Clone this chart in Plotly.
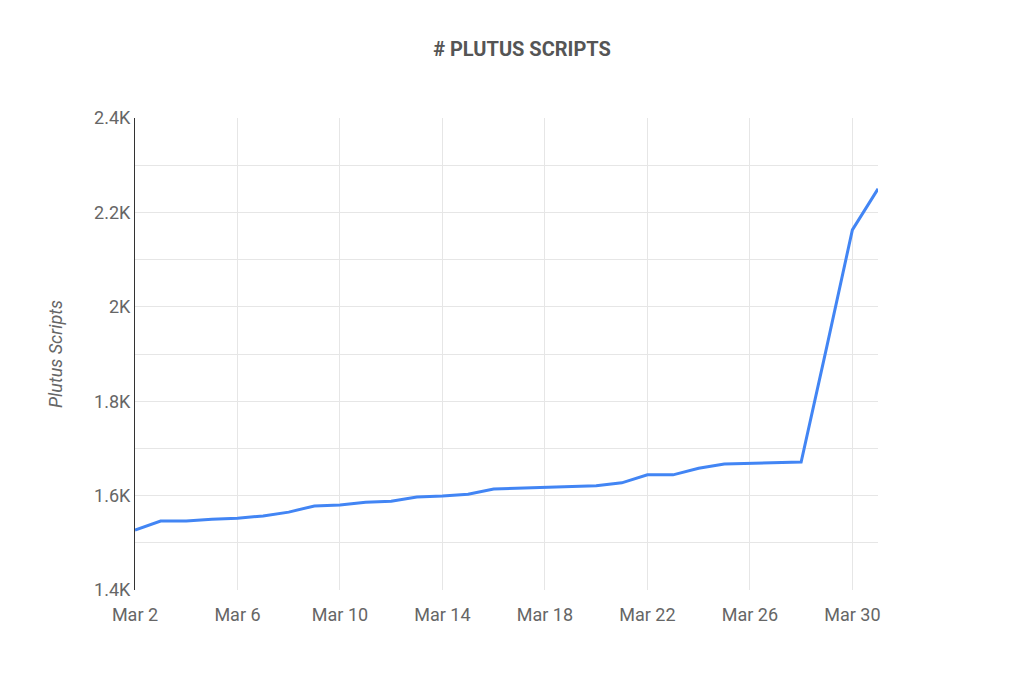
import plotly.graph_objects as go
import pandas as pd

dates = pd.date_range("2021-03-02", "2021-03-31", freq="D")
scripts = [1527, 1546, 1546, 1550, 1552, 1557, 1565, 1578, 1580, 1586,
           1588, 1597, 1599, 1603, 1614, 1616, 1618, 1620, 1621, 1627,
           1644, 1644, 1658, 1667, 1668, 1669, 1671, 1915, 2163, 2250]
tick_vals = pd.date_range("2021-03-02", "2021-03-30", freq="4D")
tick_text = [f"Mar {d.day}" for d in tick_vals]
y_ticks = [1400, 1600, 1800, 2000, 2200, 2400]
y_text = ["1.4K", "1.6K", "1.8K", "2K", "2.2K", "2.4K"]

fig = go.Figure(go.Scatter(x=dates, y=scripts, mode="lines",
                           line=dict(color="#4285f4", width=3), showlegend=False))

fig.update_layout(
    width=1028, height=677,
    margin=dict(l=127, r=158, t=110, b=95),
    paper_bgcolor="white", plot_bgcolor="white",
    font=dict(family="Roboto", size=18, color="#666666"),
    title=dict(text="<b># PLUTUS SCRIPTS</b>", x=0.5, xanchor="center", y=0.95,
               font=dict(size=20, color="#555555")),
)
fig.update_xaxes(range=[dates[0], dates[-1]], tickvals=tick_vals, ticktext=tick_text,
                 showgrid=True, gridcolor="#e6e6e6", showline=False, zeroline=False,
                 ticks="", ticklabelstandoff=12)
fig.update_yaxes(range=[1400, 2400], tickvals=y_ticks, ticktext=y_text,
                 showgrid=True, gridcolor="#e6e6e6",
                 minor=dict(dtick=100, showgrid=True, gridcolor="#e6e6e6"),
                 showline=True, linecolor="#333333", linewidth=1, zeroline=False,
                 title=dict(text="<i>Plutus Scripts</i>", standoff=26,
                            font=dict(size=18, color="#666666")),
                 ticks="")
fig.write_html("out.html")
